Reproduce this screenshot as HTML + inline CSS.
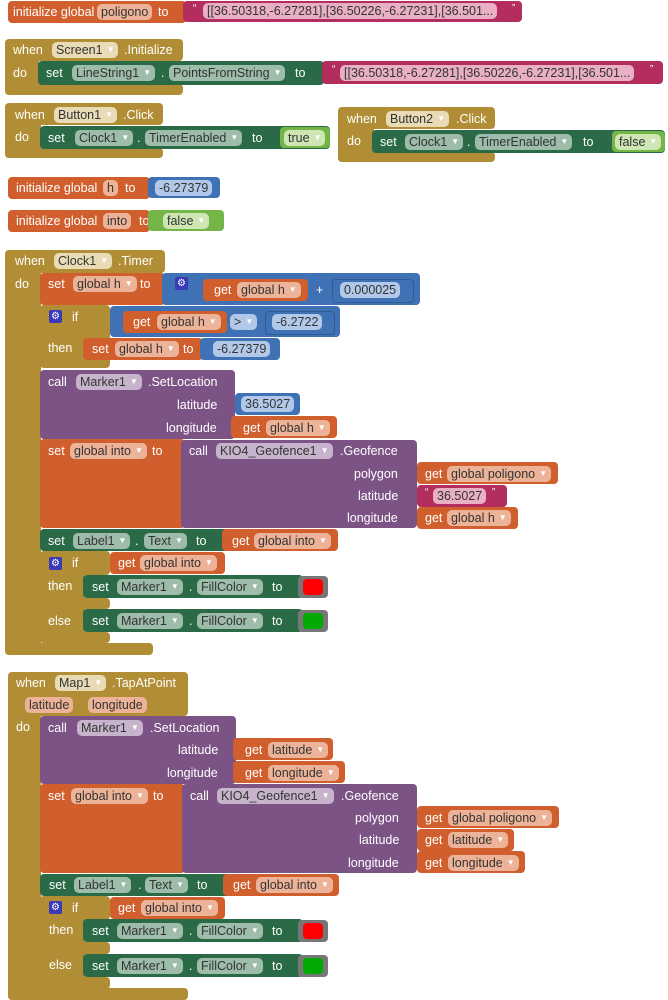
<!DOCTYPE html>
<html><head><meta charset="utf-8"><style>
body{margin:0;width:668px;height:1000px;background:#fff;position:relative;overflow:hidden;font-family:"Liberation Sans",Arial,sans-serif}
.b{position:absolute;border-radius:4px}
.t{position:absolute;color:#fff;font-size:12.5px;line-height:16px;white-space:nowrap}
.p{position:absolute;border-radius:5px;color:#333;font-size:12.5px;line-height:16px;height:16px;padding:0 4px;white-space:nowrap}
.p i{font-style:normal;font-size:8px;color:#fff;margin-left:4px;vertical-align:2px}
.g{background:#B18E35}.o{background:#D05F2D}.gr{background:#2B6A47}.pk{background:#B32D5E}.bl{background:#3F71B5}.lg{background:#74B547}.pu{background:#7C5385}.gy{background:#777}
.gp{background:#E8DBB5}.op{background:#EDB398}.grp{background:#9DBCA9}.pkp{background:#E9AFC4}.blp{background:#B2C8E8}.lgp{background:#CDE6B3}.pup{background:#C7B4CC}
.gear{position:absolute;width:13px;height:13px;background:#3A3AB8;border-radius:2px;color:#fff;font-size:10px;line-height:13px;text-align:center}
</style></head><body>

<!-- init poligono -->
<div class="b o" style="left:8px;top:1px;width:178px;height:22px"></div>
<span class="t" style="left:13px;top:4px">initialize global</span>
<span class="p op" style="left:97px;top:4px">poligono</span>
<span class="t" style="left:158px;top:4px">to</span>
<div class="b pk" style="left:183px;top:1px;width:339px;height:21px"></div>
<span class="t" style="left:193px;top:1px;font-size:10px">“</span>
<span class="p pkp" style="left:203px;top:3px">[[36.50318,-6.27281],[36.50226,-6.27231],[36.501...</span>
<span class="t" style="left:512px;top:1px;font-size:10px">”</span>

<!-- Screen1.Initialize -->
<div class="b g" style="left:5px;top:39px;width:178px;height:22px"></div>
<div class="b g" style="left:5px;top:55px;width:34px;height:40px"></div>
<div class="b g" style="left:5px;top:84px;width:178px;height:11px"></div>
<span class="t" style="left:13px;top:42px">when</span>
<span class="p gp" style="left:52px;top:42px">Screen1<i>▼</i></span>
<span class="t" style="left:124px;top:42px">.Initialize</span>
<span class="t" style="left:13px;top:65px">do</span>
<div class="b gr" style="left:38px;top:61px;width:286px;height:24px"></div>
<span class="t" style="left:46px;top:65px">set</span>
<span class="p grp" style="left:72px;top:65px">LineString1<i>▼</i></span>
<span class="t" style="left:161px;top:65px">.</span>
<span class="p grp" style="left:169px;top:65px">PointsFromString<i>▼</i></span>
<span class="t" style="left:295px;top:65px">to</span>
<div class="b pk" style="left:322px;top:61px;width:341px;height:23px"></div>
<span class="t" style="left:332px;top:62px;font-size:10px">“</span>
<span class="p pkp" style="left:340px;top:65px">[[36.50318,-6.27281],[36.50226,-6.27231],[36.501...</span>
<span class="t" style="left:650px;top:62px;font-size:10px">”</span>

<!-- Button1.Click -->
<div class="b g" style="left:5px;top:103px;width:158px;height:22px"></div>
<div class="b g" style="left:5px;top:118px;width:36px;height:40px"></div>
<div class="b g" style="left:5px;top:148px;width:158px;height:10px"></div>
<span class="t" style="left:15px;top:107px">when</span>
<span class="p gp" style="left:54px;top:107px">Button1<i>▼</i></span>
<span class="t" style="left:123px;top:107px">.Click</span>
<span class="t" style="left:15px;top:129px">do</span>
<div class="b gr" style="left:40px;top:126px;width:290px;height:23px"></div>
<span class="t" style="left:48px;top:130px">set</span>
<span class="p grp" style="left:75px;top:130px">Clock1<i>▼</i></span>
<span class="t" style="left:137px;top:130px">.</span>
<span class="p grp" style="left:145px;top:130px">TimerEnabled<i>▼</i></span>
<span class="t" style="left:252px;top:130px">to</span>
<div class="b lg" style="left:280px;top:127px;width:50px;height:21px"></div>
<span class="p lgp" style="left:284px;top:130px">true<i>▼</i></span>

<!-- Button2.Click -->
<div class="b g" style="left:338px;top:107px;width:157px;height:22px"></div>
<div class="b g" style="left:338px;top:122px;width:36px;height:40px"></div>
<div class="b g" style="left:338px;top:152px;width:157px;height:10px"></div>
<span class="t" style="left:347px;top:111px">when</span>
<span class="p gp" style="left:386px;top:111px">Button2<i>▼</i></span>
<span class="t" style="left:456px;top:111px">.Click</span>
<span class="t" style="left:347px;top:133px">do</span>
<div class="b gr" style="left:372px;top:130px;width:293px;height:23px"></div>
<span class="t" style="left:380px;top:134px">set</span>
<span class="p grp" style="left:405px;top:134px">Clock1<i>▼</i></span>
<span class="t" style="left:467px;top:134px">.</span>
<span class="p grp" style="left:475px;top:134px">TimerEnabled<i>▼</i></span>
<span class="t" style="left:583px;top:134px">to</span>
<div class="b lg" style="left:612px;top:131px;width:53px;height:21px"></div>
<span class="p lgp" style="left:615px;top:134px">false<i>▼</i></span>

<!-- init h -->
<div class="b o" style="left:8px;top:177px;width:142px;height:22px"></div>
<span class="t" style="left:16px;top:180px">initialize global</span>
<span class="p op" style="left:103px;top:180px">h</span>
<span class="t" style="left:125px;top:180px">to</span>
<div class="b bl" style="left:148px;top:177px;width:72px;height:21px"></div>
<span class="p blp" style="left:155px;top:180px">-6.27379</span>

<!-- init into -->
<div class="b o" style="left:8px;top:210px;width:142px;height:22px"></div>
<span class="t" style="left:16px;top:213px">initialize global</span>
<span class="p op" style="left:103px;top:213px">into</span>
<span class="t" style="left:139px;top:213px">to</span>
<div class="b lg" style="left:148px;top:210px;width:76px;height:21px"></div>
<span class="p lgp" style="left:163px;top:213px">false<i>▼</i></span>

<!-- Clock1.Timer -->
<div class="b g" style="left:5px;top:250px;width:160px;height:23px"></div>
<div class="b g" style="left:5px;top:265px;width:36px;height:390px"></div>
<div class="b g" style="left:5px;top:643px;width:148px;height:12px"></div>
<span class="t" style="left:15px;top:253px">when</span>
<span class="p gp" style="left:54px;top:253px">Clock1<i>▼</i></span>
<span class="t" style="left:118px;top:253px">.Timer</span>
<span class="t" style="left:15px;top:276px">do</span>

<div class="b o" style="left:40px;top:273px;width:125px;height:32px"></div>
<span class="t" style="left:48px;top:276px">set</span>
<span class="p op" style="left:73px;top:276px">global h<i>▼</i></span>
<span class="t" style="left:140px;top:276px">to</span>
<div class="b bl" style="left:162px;top:273px;width:258px;height:32px"></div>
<div class="gear" style="left:175px;top:277px">⚙</div>
<div class="b o" style="left:203px;top:279px;width:105px;height:22px"></div>
<span class="t" style="left:214px;top:282px">get</span>
<span class="p op" style="left:237px;top:282px">global h<i>▼</i></span>
<span class="t" style="left:316px;top:282px">+</span>
<div class="b bl" style="left:332px;top:279px;width:80px;height:22px;border:1px solid #2f5a96"></div>
<span class="p blp" style="left:340px;top:282px">0.000025</span>

<div class="b g" style="left:40px;top:305px;width:70px;height:63px"></div>
<div class="b g" style="left:40px;top:305px;width:45px;height:63px"></div>
<div class="gear" style="left:49px;top:310px">⚙</div>
<span class="t" style="left:72px;top:309px">if</span>
<div class="b bl" style="left:110px;top:306px;width:230px;height:31px"></div>
<div class="b o" style="left:123px;top:311px;width:104px;height:22px"></div>
<span class="t" style="left:133px;top:314px">get</span>
<span class="p op" style="left:157px;top:314px">global h<i>▼</i></span>
<span class="p blp" style="left:230px;top:314px">&gt;<i>▼</i></span>
<div class="b bl" style="left:265px;top:311px;width:68px;height:22px;border:1px solid #2f5a96"></div>
<span class="p blp" style="left:272px;top:314px">-6.2722</span>
<span class="t" style="left:48px;top:340px">then</span>
<div class="b o" style="left:83px;top:338px;width:120px;height:22px"></div>
<span class="t" style="left:92px;top:341px">set</span>
<span class="p op" style="left:115px;top:341px">global h<i>▼</i></span>
<span class="t" style="left:183px;top:341px">to</span>
<div class="b bl" style="left:200px;top:338px;width:80px;height:22px"></div>
<span class="p blp" style="left:213px;top:341px">-6.27379</span>

<div class="b pu" style="left:40px;top:370px;width:195px;height:69px"></div>
<span class="t" style="left:48px;top:374px">call</span>
<span class="p pup" style="left:76px;top:374px">Marker1<i>▼</i></span>
<span class="t" style="left:148px;top:374px">.SetLocation</span>
<span class="t" style="left:177px;top:397px">latitude</span>
<div class="b bl" style="left:235px;top:393px;width:65px;height:22px"></div>
<span class="p blp" style="left:241px;top:396px">36.5027</span>
<span class="t" style="left:166px;top:420px">longitude</span>
<div class="b o" style="left:231px;top:416px;width:106px;height:22px"></div>
<span class="t" style="left:243px;top:420px">get</span>
<span class="p op" style="left:266px;top:420px">global h<i>▼</i></span>

<div class="b o" style="left:40px;top:439px;width:145px;height:89px"></div>
<span class="t" style="left:48px;top:443px">set</span>
<span class="p op" style="left:70px;top:443px">global into<i>▼</i></span>
<span class="t" style="left:152px;top:443px">to</span>
<div class="b pu" style="left:181px;top:440px;width:236px;height:88px"></div>
<span class="t" style="left:189px;top:443px">call</span>
<span class="p pup" style="left:216px;top:443px">KIO4_Geofence1<i>▼</i></span>
<span class="t" style="left:340px;top:443px">.Geofence</span>
<span class="t" style="left:354px;top:466px">polygon</span>
<div class="b o" style="left:417px;top:462px;width:141px;height:22px"></div>
<span class="t" style="left:425px;top:466px">get</span>
<span class="p op" style="left:447px;top:466px">global poligono<i>▼</i></span>
<span class="t" style="left:358px;top:488px">latitude</span>
<div class="b pk" style="left:417px;top:485px;width:90px;height:22px"></div>
<span class="t" style="left:425px;top:485px;font-size:10px">“</span>
<span class="p pkp" style="left:433px;top:488px">36.5027</span>
<span class="t" style="left:492px;top:485px;font-size:10px">”</span>
<span class="t" style="left:347px;top:510px">longitude</span>
<div class="b o" style="left:417px;top:507px;width:101px;height:22px"></div>
<span class="t" style="left:425px;top:510px">get</span>
<span class="p op" style="left:447px;top:510px">global h<i>▼</i></span>

<div class="b gr" style="left:40px;top:529px;width:190px;height:22px"></div>
<span class="t" style="left:48px;top:533px">set</span>
<span class="p grp" style="left:73px;top:533px">Label1<i>▼</i></span>
<span class="t" style="left:135px;top:533px">.</span>
<span class="p grp" style="left:144px;top:533px">Text<i>▼</i></span>
<span class="t" style="left:196px;top:533px">to</span>
<div class="b o" style="left:222px;top:529px;width:116px;height:22px"></div>
<span class="t" style="left:232px;top:533px">get</span>
<span class="p op" style="left:254px;top:533px">global into<i>▼</i></span>

<div class="b g" style="left:40px;top:551px;width:70px;height:24px"></div>
<div class="b g" style="left:40px;top:551px;width:45px;height:92px"></div>
<div class="b g" style="left:40px;top:598px;width:70px;height:11px"></div>
<div class="b g" style="left:40px;top:632px;width:70px;height:11px"></div>
<div class="gear" style="left:49px;top:557px">⚙</div>
<span class="t" style="left:72px;top:555px">if</span>
<div class="b o" style="left:110px;top:552px;width:115px;height:22px"></div>
<span class="t" style="left:118px;top:555px">get</span>
<span class="p op" style="left:140px;top:555px">global into<i>▼</i></span>
<span class="t" style="left:48px;top:578px">then</span>
<div class="b gr" style="left:83px;top:575px;width:220px;height:23px"></div>
<span class="t" style="left:92px;top:579px">set</span>
<span class="p grp" style="left:117px;top:579px">Marker1<i>▼</i></span>
<span class="t" style="left:189px;top:579px">.</span>
<span class="p grp" style="left:197px;top:579px">FillColor<i>▼</i></span>
<span class="t" style="left:272px;top:579px">to</span>
<div class="b gy" style="left:298px;top:576px;width:30px;height:22px"></div>
<div class="b" style="left:303px;top:579px;width:20px;height:16px;background:#f00"></div>
<span class="t" style="left:48px;top:613px">else</span>
<div class="b gr" style="left:83px;top:609px;width:220px;height:23px"></div>
<span class="t" style="left:92px;top:613px">set</span>
<span class="p grp" style="left:117px;top:613px">Marker1<i>▼</i></span>
<span class="t" style="left:189px;top:613px">.</span>
<span class="p grp" style="left:197px;top:613px">FillColor<i>▼</i></span>
<span class="t" style="left:272px;top:613px">to</span>
<div class="b gy" style="left:298px;top:610px;width:30px;height:22px"></div>
<div class="b" style="left:303px;top:613px;width:20px;height:16px;background:#0a0"></div>

<!-- Map1.TapAtPoint -->
<div class="b g" style="left:8px;top:672px;width:180px;height:44px"></div>
<div class="b g" style="left:8px;top:700px;width:33px;height:300px"></div>
<div class="b g" style="left:8px;top:988px;width:180px;height:12px"></div>
<span class="t" style="left:16px;top:675px">when</span>
<span class="p gp" style="left:55px;top:675px">Map1<i>▼</i></span>
<span class="t" style="left:112px;top:675px">.TapAtPoint</span>
<span class="p op" style="left:25px;top:697px">latitude</span>
<span class="p op" style="left:88px;top:697px">longitude</span>
<span class="t" style="left:16px;top:719px">do</span>

<div class="b pu" style="left:40px;top:716px;width:196px;height:68px"></div>
<span class="t" style="left:48px;top:720px">call</span>
<span class="p pup" style="left:77px;top:720px">Marker1<i>▼</i></span>
<span class="t" style="left:150px;top:720px">.SetLocation</span>
<span class="t" style="left:178px;top:742px">latitude</span>
<div class="b o" style="left:233px;top:738px;width:100px;height:22px"></div>
<span class="t" style="left:245px;top:742px">get</span>
<span class="p op" style="left:268px;top:742px">latitude<i>▼</i></span>
<span class="t" style="left:167px;top:765px">longitude</span>
<div class="b o" style="left:233px;top:761px;width:112px;height:22px"></div>
<span class="t" style="left:245px;top:765px">get</span>
<span class="p op" style="left:268px;top:765px">longitude<i>▼</i></span>

<div class="b o" style="left:40px;top:784px;width:145px;height:89px"></div>
<span class="t" style="left:48px;top:788px">set</span>
<span class="p op" style="left:71px;top:788px">global into<i>▼</i></span>
<span class="t" style="left:153px;top:788px">to</span>
<div class="b pu" style="left:182px;top:784px;width:235px;height:89px"></div>
<span class="t" style="left:190px;top:788px">call</span>
<span class="p pup" style="left:217px;top:788px">KIO4_Geofence1<i>▼</i></span>
<span class="t" style="left:341px;top:788px">.Geofence</span>
<span class="t" style="left:355px;top:810px">polygon</span>
<div class="b o" style="left:417px;top:806px;width:142px;height:22px"></div>
<span class="t" style="left:425px;top:810px">get</span>
<span class="p op" style="left:448px;top:810px">global poligono<i>▼</i></span>
<span class="t" style="left:359px;top:832px">latitude</span>
<div class="b o" style="left:417px;top:829px;width:97px;height:22px"></div>
<span class="t" style="left:425px;top:832px">get</span>
<span class="p op" style="left:448px;top:832px">latitude<i>▼</i></span>
<span class="t" style="left:348px;top:855px">longitude</span>
<div class="b o" style="left:417px;top:851px;width:108px;height:22px"></div>
<span class="t" style="left:425px;top:855px">get</span>
<span class="p op" style="left:448px;top:855px">longitude<i>▼</i></span>

<div class="b gr" style="left:40px;top:874px;width:190px;height:22px"></div>
<span class="t" style="left:49px;top:877px">set</span>
<span class="p grp" style="left:74px;top:877px">Label1<i>▼</i></span>
<span class="t" style="left:138px;top:877px">.</span>
<span class="p grp" style="left:145px;top:877px">Text<i>▼</i></span>
<span class="t" style="left:197px;top:877px">to</span>
<div class="b o" style="left:223px;top:874px;width:116px;height:22px"></div>
<span class="t" style="left:233px;top:877px">get</span>
<span class="p op" style="left:256px;top:877px">global into<i>▼</i></span>

<div class="b g" style="left:40px;top:896px;width:70px;height:24px"></div>
<div class="b g" style="left:40px;top:896px;width:45px;height:94px"></div>
<div class="b g" style="left:40px;top:942px;width:70px;height:12px"></div>
<div class="b g" style="left:40px;top:977px;width:70px;height:12px"></div>
<div class="gear" style="left:49px;top:901px">⚙</div>
<span class="t" style="left:72px;top:900px">if</span>
<div class="b o" style="left:110px;top:897px;width:115px;height:22px"></div>
<span class="t" style="left:118px;top:900px">get</span>
<span class="p op" style="left:141px;top:900px">global into<i>▼</i></span>
<span class="t" style="left:49px;top:922px">then</span>
<div class="b gr" style="left:83px;top:919px;width:220px;height:23px"></div>
<span class="t" style="left:92px;top:923px">set</span>
<span class="p grp" style="left:117px;top:923px">Marker1<i>▼</i></span>
<span class="t" style="left:189px;top:923px">.</span>
<span class="p grp" style="left:197px;top:923px">FillColor<i>▼</i></span>
<span class="t" style="left:272px;top:923px">to</span>
<div class="b gy" style="left:298px;top:920px;width:30px;height:22px"></div>
<div class="b" style="left:303px;top:923px;width:20px;height:16px;background:#f00"></div>
<span class="t" style="left:49px;top:957px">else</span>
<div class="b gr" style="left:83px;top:954px;width:220px;height:23px"></div>
<span class="t" style="left:92px;top:958px">set</span>
<span class="p grp" style="left:117px;top:958px">Marker1<i>▼</i></span>
<span class="t" style="left:189px;top:958px">.</span>
<span class="p grp" style="left:197px;top:958px">FillColor<i>▼</i></span>
<span class="t" style="left:272px;top:958px">to</span>
<div class="b gy" style="left:298px;top:955px;width:30px;height:22px"></div>
<div class="b" style="left:303px;top:958px;width:20px;height:16px;background:#0a0"></div>

</body></html>
